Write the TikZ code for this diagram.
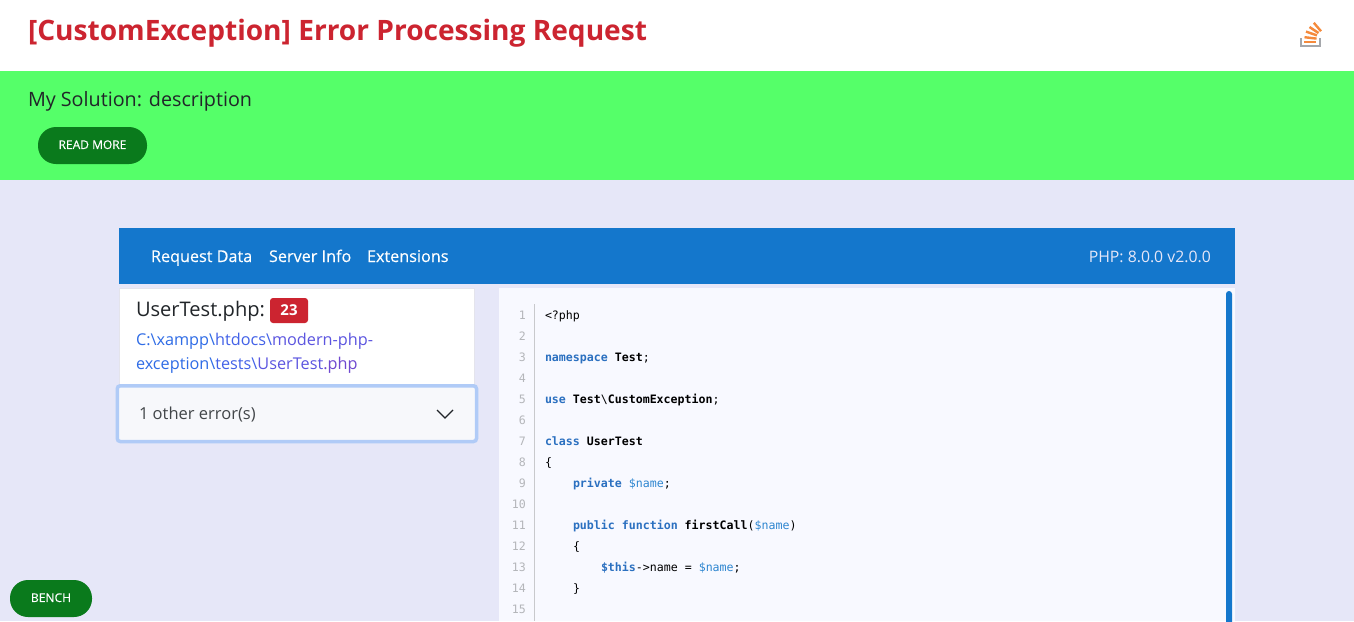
\documentclass[tikz,border=0pt]{standalone}
\usepackage{fontspec}
\setmainfont{Open Sans}
\newfontfamily\codefont{DejaVu Sans Mono}
\newfontfamily\semifont[FakeBold=0.25]{Open Sans}
\definecolor{lav}{HTML}{E6E7F8}
\definecolor{lime}{HTML}{55FF69}
\definecolor{dgreen}{HTML}{0A7A1C}
\definecolor{barblue}{HTML}{1477CC}
\definecolor{errred}{HTML}{CC2430}
\definecolor{ink}{HTML}{212529}
\definecolor{codebg}{HTML}{F8F9FF}
\definecolor{panelbg}{HTML}{F7F8FB}
\definecolor{focus}{HTML}{B0CBF7}
\definecolor{kw}{HTML}{2B70C0}
\definecolor{var}{HTML}{2E86D0}
\definecolor{lnum}{HTML}{B4B6BA}
\definecolor{rule}{HTML}{C8C9CC}
\definecolor{sog}{HTML}{A5A7AB}
\definecolor{soo}{HTML}{F58A3C}
\definecolor{lk1}{HTML}{2F6CE6}
\definecolor{lk2}{HTML}{4362E8}
\definecolor{lk3}{HTML}{5C55E0}
\definecolor{lk4}{HTML}{6F48D0}
\newcommand{\kwd}[1]{\textcolor{kw}{\fontspec{DejaVu Sans Mono Bold}#1}}
\newcommand{\vrb}[1]{\textcolor{var}{#1}}
\newcommand{\bld}[1]{{\fontspec{DejaVu Sans Mono Bold}#1}}
\newcommand{\fs}[1]{\fontsize{#1}{#1}\selectfont}
\tikzset{
  x=1pt,y=-1pt,
  txt/.style={anchor=base west,inner sep=0pt,outer sep=0pt},
  pill/.style={fill=dgreen,rounded corners=18pt,draw=none},
  navitem/.style={txt,text=white,font=\semifont\fs{16.2}},
  code/.style={txt,text=black,font=\codefont\fs{11.6}},
  lineno/.style={anchor=base east,inner sep=0pt,text=lnum,font=\codefont\fs{11.6}},
  btntext/.style={anchor=center,inner sep=0pt,text=white,font=\semifont\fs{12}},
}
\begin{document}
\begin{tikzpicture}
\useasboundingbox (0,0) rectangle (1354,621);
\fill[lav] (0,0) rectangle (1354,621);
\fill[white] (0,0) rectangle (1354,71);
\fill[lime] (0,71) rectangle (1354,180);
\node[txt,text=errred,font=\bfseries\fs{28.1}] (title) at (28,40) {[CustomException] Error Processing Request};
% icon
\draw[sog,line width=2.2pt] (1301,38) -- (1301,46) -- (1320,46) -- (1320,38);
\begin{scope}[soo,line width=2.4pt]
\draw (1304,42) -- (1316,42);
\draw (1304.5,37.2) -- (1316.5,38.6);
\draw (1306,31.6) -- (1317,35.4);
\draw (1309.5,27) -- (1318.5,33);
\draw (1313.8,22.8) -- (1321,31.2);
\end{scope}
\node[txt,text=ink,font=\fs{19.75}] (sol) at (28,106) {My Solution: description};
\fill[pill] (38,127) rectangle (147,164);
\node[btntext] (readmore) at (92.5,144.7) {READ MORE};
\fill[pill] (10,580) rectangle (92,617);
\node[btntext] (bench) at (51,597.7) {BENCH};
% nav
\fill[barblue] (119,228) rectangle (1235,284);
\node[navitem] (n1) at (151,262) {Request Data};
\node[navitem] (n2) at (269,262) {Server Info};
\node[navitem] (n3) at (367,262) {Extensions};
\node[anchor=base east,inner sep=0pt,text=lav,font=\fs{15.8}] (php) at (1211,262) {PHP: 8.0.0 v2.0.0};
% left
\draw[fill=white,draw=lav!80!gray!60] (119.5,288.5) rectangle (474.5,388);
\node[txt,text=ink,font=\fs{20.1}] (file) at (136,316) {UserTest.php:};
\fill[errred,rounded corners=3pt] (270,298) rectangle (308,323);
\node[anchor=center,inner sep=0pt,text=white,font=\bfseries\fs{15}] (badge) at (289,310.5) {23};
\node[txt,font=\fs{16.25}] (p1) at (136,345) {\textcolor{lk1}{C:\textbackslash xampp\textbackslash}\textcolor{lk2}{htdocs\textbackslash}\textcolor{lk3}{modern-php-}};
\node[txt,font=\fs{16.25}] (p2) at (136,369) {\textcolor{lk1}{exception\textbackslash}\textcolor{lk2}{tests\textbackslash}\textcolor{lk3}{UserTest}\textcolor{lk4}{.php}};
\draw[fill=panelbg,draw=focus,line width=3.5pt,rounded corners=3pt] (117.25,385.75) rectangle (476.5,441.5);
\node[txt,text=ink!85,font=\fs{16.5}] (other) at (139,419) {1 other error(s)};
\draw[ink,line width=1.1pt] (437,410) -- (445,418) -- (453,410);
% code
\fill[codebg] (499,288) rectangle (1235,621);
\fill[barblue,rounded corners=3pt] (1226,291) rectangle (1232,630);
\coordinate (ruletop) at (534.5,304);
\coordinate (rulebot) at (534.5,621);
\draw[rule,line width=1pt] (ruletop) -- (rulebot);
\foreach \n/\y in {1/319,2/340,3/361,4/382,5/403,6/424,7/445,8/466,9/487,10/508,11/529,12/550,13/571,14/592,15/613}
  \node[lineno] (ln\n) at (526,\y) {\n};
\node[code] (c1) at (545,319) {<?php};
\node[code] (c3) at (545,361) {\kwd{namespace} \bld{Test};};
\node[code] (c5) at (545,403) {\kwd{use} \bld{Test}\textbackslash\bld{CustomException};};
\node[code] (c7) at (545,445) {\kwd{class} \bld{UserTest}};
\node[code] (c8) at (545,466) {\{};
\node[code] (c9) at (573,487) {\kwd{private} \vrb{\$name};};
\node[code] (c11) at (573,529) {\kwd{public} \kwd{function} \bld{firstCall}(\vrb{\$name})};
\node[code] (c12) at (573,550) {\{};
\node[code] (c13) at (601,571) {\kwd{\$this}->name = \vrb{\$name};};
\node[code] (c14) at (573,592) {\}};
\end{tikzpicture}
\end{document}
